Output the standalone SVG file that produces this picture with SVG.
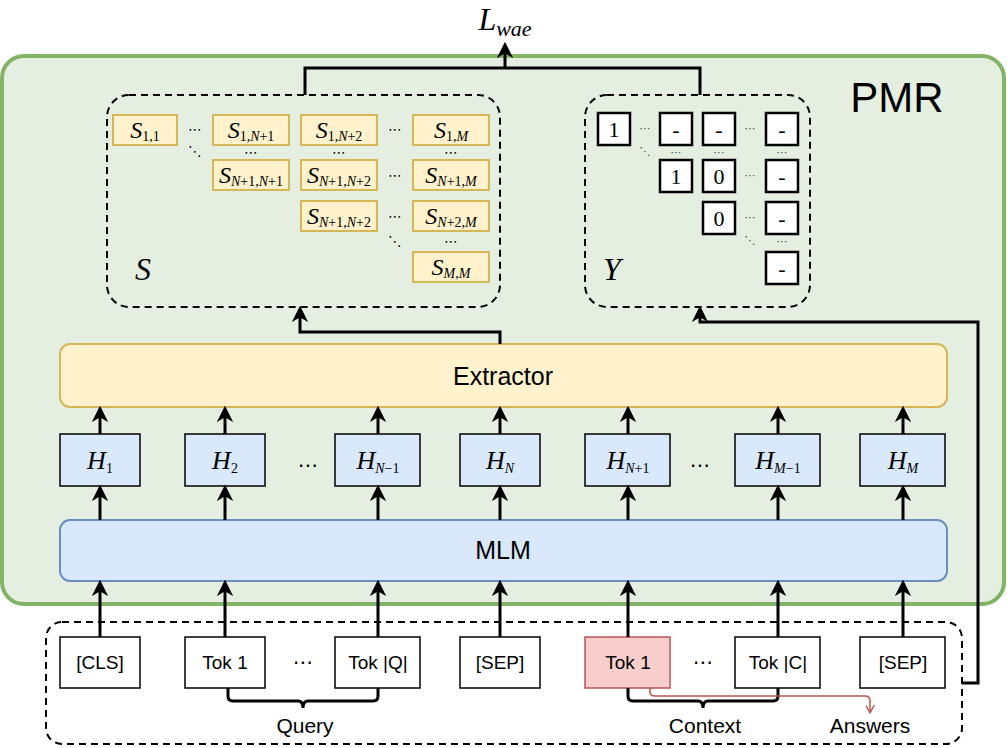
<svg xmlns="http://www.w3.org/2000/svg" width="1007" height="748" viewBox="0 0 1007 748">
<defs>
<marker id="a" viewBox="0 0 10 10" refX="8" refY="5" markerWidth="5.5" markerHeight="5.5" orient="auto"><path d="M0,0 L10,5 L0,10 L3,5 z" fill="#000"/></marker>
<marker id="r" viewBox="0 0 10 10" refX="8" refY="5" markerWidth="6" markerHeight="6" orient="auto"><path d="M0,0 L9,5 L0,10" fill="none" stroke="#b85450" stroke-width="1.5"/></marker>
</defs>
<style>
.s{fill:#fff2cc;stroke:#d6b656;stroke-width:2}
.y{fill:#fff;stroke:#000;stroke-width:2.5}
.h{fill:#dae8fc;stroke:#000;stroke-width:1.5}
.t{fill:#fff;stroke:#000;stroke-width:1.5}
.d{fill:none;stroke:#000;stroke-width:2;stroke-dasharray:7 5}
.m{font-family:"Liberation Serif",serif;font-style:italic;font-size:24px;text-anchor:middle}
.hm{font-size:26px}
.sb{font-size:14px;font-style:normal}
.sbi{font-size:14px}
.n{font-family:"Liberation Serif",serif;font-size:22px;text-anchor:middle}
.f{font-family:"Liberation Sans",Arial,sans-serif;font-size:19px;text-anchor:middle}
.dots{font-family:"DejaVu Sans",sans-serif;font-size:14px;text-anchor:middle;fill:#000}
.c{fill:none;stroke:#000;stroke-width:3}
</style>
<g id="pmr"><rect x="2" y="56" width="1002" height="548" rx="22" fill="#e5efe1" stroke="#82b366" stroke-width="4"/>
<text x="897" y="112" font-family="Liberation Sans,Arial,sans-serif" font-size="42" text-anchor="middle">PMR</text></g>
<text x="505" y="30" class="m" style="font-size:32px">L<tspan style="font-size:22px" dy="6">wae</tspan></text>
<g id="S">
<rect x="107" y="95" width="393" height="212" rx="22" class="d"/>
<text x="143" y="280" class="m" style="font-size:32px">S</text>
<rect x="113" y="115" width="64" height="30" class="s"/><text x="145" y="138" class="m">S<tspan class="sb" dy="3">1,1</tspan></text>
<rect x="213" y="115" width="76" height="30" class="s"/><text x="251" y="138" class="m">S<tspan class="sb" dy="3">1,</tspan><tspan class="sbi">N</tspan><tspan class="sb">+1</tspan></text>
<rect x="301" y="115" width="76" height="30" class="s"/><text x="339" y="138" class="m">S<tspan class="sb" dy="3">1,</tspan><tspan class="sbi">N</tspan><tspan class="sb">+2</tspan></text>
<rect x="413" y="115" width="76" height="30" class="s"/><text x="451" y="138" class="m">S<tspan class="sb" dy="3">1,</tspan><tspan class="sbi">M</tspan></text>
<rect x="213" y="160" width="76" height="30" class="s"/><text x="251" y="183" class="m">S<tspan class="sbi" dy="3">N</tspan><tspan class="sb">+1,</tspan><tspan class="sbi">N</tspan><tspan class="sb">+1</tspan></text>
<rect x="301" y="160" width="76" height="30" class="s"/><text x="339" y="183" class="m">S<tspan class="sbi" dy="3">N</tspan><tspan class="sb">+1,</tspan><tspan class="sbi">N</tspan><tspan class="sb">+2</tspan></text>
<rect x="413" y="160" width="76" height="30" class="s"/><text x="451" y="183" class="m">S<tspan class="sbi" dy="3">N</tspan><tspan class="sb">+1,</tspan><tspan class="sbi">M</tspan></text>
<rect x="301" y="201" width="76" height="30" class="s"/><text x="339" y="224" class="m">S<tspan class="sbi" dy="3">N</tspan><tspan class="sb">+1,</tspan><tspan class="sbi">N</tspan><tspan class="sb">+2</tspan></text>
<rect x="413" y="201" width="76" height="30" class="s"/><text x="451" y="224" class="m">S<tspan class="sbi" dy="3">N</tspan><tspan class="sb">+2,</tspan><tspan class="sbi">M</tspan></text>
<rect x="413" y="252" width="76" height="30" class="s"/><text x="451" y="275" class="m">S<tspan class="sbi" dy="3">M</tspan><tspan class="sb">,</tspan><tspan class="sbi">M</tspan></text>
<text x="195" y="134" class="dots">⋯</text><text x="395" y="134" class="dots">⋯</text>
<text x="195" y="156" class="dots">⋱</text>
<text x="251" y="157" class="dots">⋯</text><text x="339" y="157" class="dots">⋯</text><text x="451" y="157" class="dots">⋯</text>
<text x="395" y="180" class="dots">⋯</text><text x="395" y="221" class="dots">⋯</text>
<text x="395" y="246" class="dots">⋱</text><text x="451" y="246" class="dots">⋯</text>
</g>
<g id="Y">
<rect x="585" y="95" width="225" height="212" rx="22" class="d"/>
<text x="612" y="280" class="m" style="font-size:32px">Y</text>
<rect x="598" y="113" width="32" height="32" class="y"/><text x="614" y="137" class="n">1</text>
<rect x="660" y="113" width="32" height="32" class="y"/><text x="676" y="137" class="n">-</text>
<rect x="703" y="113" width="32" height="32" class="y"/><text x="719" y="137" class="n">-</text>
<rect x="766" y="113" width="32" height="32" class="y"/><text x="782" y="137" class="n">-</text>
<rect x="660" y="160" width="32" height="32" class="y"/><text x="676" y="184" class="n">1</text>
<rect x="703" y="160" width="32" height="32" class="y"/><text x="719" y="184" class="n">0</text>
<rect x="766" y="160" width="32" height="32" class="y"/><text x="782" y="184" class="n">-</text>
<rect x="703" y="202" width="32" height="32" class="y"/><text x="719" y="226" class="n">0</text>
<rect x="766" y="202" width="32" height="32" class="y"/><text x="782" y="226" class="n">-</text>
<rect x="766" y="252" width="32" height="32" class="y"/><text x="782" y="276" class="n">-</text>
<g class="dots" style="font-size:11px;fill:#444">
<text x="645" y="132">⋯</text><text x="750" y="132">⋯</text><text x="750" y="179">⋯</text><text x="750" y="221">⋯</text>
<text x="645" y="155">⋱</text><text x="676" y="156">⋯</text><text x="719" y="156">⋯</text><text x="782" y="156">⋯</text>
<text x="750" y="244">⋱</text><text x="782" y="245">⋯</text></g>
</g>
<g id="extractor"><rect x="60" y="344" width="887" height="63" rx="10" fill="#fff2cc" stroke="#d6b656" stroke-width="2"/><text x="503" y="385" class="f" style="font-size:25px">Extractor</text></g>
<g id="mlm"><rect x="60" y="520" width="887" height="61" rx="10" fill="#dae8fc" stroke="#6c8ebf" stroke-width="2"/><text x="503" y="559" class="f" style="font-size:25px">MLM</text></g>
<g id="H">
<rect x="60" y="434" width="80" height="52" class="h"/><text x="100" y="469" class="m hm">H<tspan class="sb" dy="4">1</tspan></text>
<rect x="185" y="434" width="80" height="52" class="h"/><text x="225" y="469" class="m hm">H<tspan class="sb" dy="4">2</tspan></text>
<rect x="335" y="434" width="85" height="52" class="h"/><text x="378" y="469" class="m hm">H<tspan class="sbi" dy="4">N</tspan><tspan class="sb">−1</tspan></text>
<rect x="460" y="434" width="80" height="52" class="h"/><text x="500" y="469" class="m hm">H<tspan class="sbi" dy="4">N</tspan></text>
<rect x="585" y="434" width="85" height="52" class="h"/><text x="628" y="469" class="m hm">H<tspan class="sbi" dy="4">N</tspan><tspan class="sb">+1</tspan></text>
<rect x="735" y="434" width="85" height="52" class="h"/><text x="778" y="469" class="m hm">H<tspan class="sbi" dy="4">M</tspan><tspan class="sb">−1</tspan></text>
<rect x="860" y="434" width="85" height="52" class="h"/><text x="903" y="469" class="m hm">H<tspan class="sbi" dy="4">M</tspan></text>
<text x="308" y="472" class="dots" style="font-size:20px">⋯</text><text x="700" y="472" class="dots" style="font-size:20px">⋯</text>
</g>
<g id="tokens">
<rect x="46" y="622" width="916" height="122" rx="16" class="d"/>
<rect x="60" y="637" width="80" height="51" class="t"/><text x="100" y="669" class="f">[CLS]</text>
<rect x="185" y="637" width="80" height="51" class="t"/><text x="225" y="669" class="f">Tok 1</text>
<rect x="335" y="637" width="85" height="51" class="t"/><text x="378" y="669" class="f">Tok |Q|</text>
<rect x="460" y="637" width="80" height="51" class="t"/><text x="500" y="669" class="f">[SEP]</text>
<rect x="585" y="637" width="85" height="51" fill="#f8cecc" stroke="#b85450" stroke-width="1.5"/><text x="628" y="669" class="f">Tok 1</text>
<rect x="735" y="637" width="85" height="51" class="t"/><text x="778" y="669" class="f">Tok |C|</text>
<rect x="860" y="637" width="85" height="51" class="t"/><text x="903" y="669" class="f">[SEP]</text>
<text x="303" y="669" class="dots" style="font-size:20px">⋯</text><text x="703" y="669" class="dots" style="font-size:20px">⋯</text>
<text x="305" y="733" class="f" style="font-size:21px">Query</text>
<text x="705" y="733" class="f" style="font-size:21px">Context</text>
<text x="870" y="733" class="f" style="font-size:21px">Answers</text>
</g>
<g id="connectors" class="c" marker-end="url(#a)">
<path d="M305,95 V68 H700 V95" marker-end="none"/>
<path d="M505,68 V45"/>
<path d="M500,344 V332 H300 V309"/>
<path d="M962,683 H978 V322 H700 V309"/>
<path d="M100,637 V583"/><path d="M225,637 V583"/><path d="M378,637 V583"/>
<path d="M500,637 V583"/><path d="M628,637 V583"/><path d="M778,637 V583"/><path d="M903,637 V583"/>
<path d="M100,520 V488"/><path d="M225,520 V488"/><path d="M378,520 V488"/><path d="M500,520 V488"/><path d="M628,520 V488"/><path d="M778,520 V488"/><path d="M903,520 V488"/>
<path d="M100,434 V409"/><path d="M225,434 V409"/><path d="M378,434 V409"/><path d="M500,434 V409"/><path d="M628,434 V409"/><path d="M778,434 V409"/><path d="M903,434 V409"/>
<path d="M228,688 V696 Q228,701 233,701 H298 Q303,701 303,708 Q303,701 308,701 H373 Q378,701 378,696 V688" marker-end="none"/>
<path d="M628,688 V696 Q628,701 633,701 H698 Q703,701 703,708 Q703,701 708,701 H773 Q778,701 778,696 V688" marker-end="none"/>
<path d="M650,688 V692 Q650,696 655,696 H865 Q870,696 870,701 V712" stroke="#b85450" stroke-width="1.5" marker-end="url(#r)"/>
</g>
</svg>
